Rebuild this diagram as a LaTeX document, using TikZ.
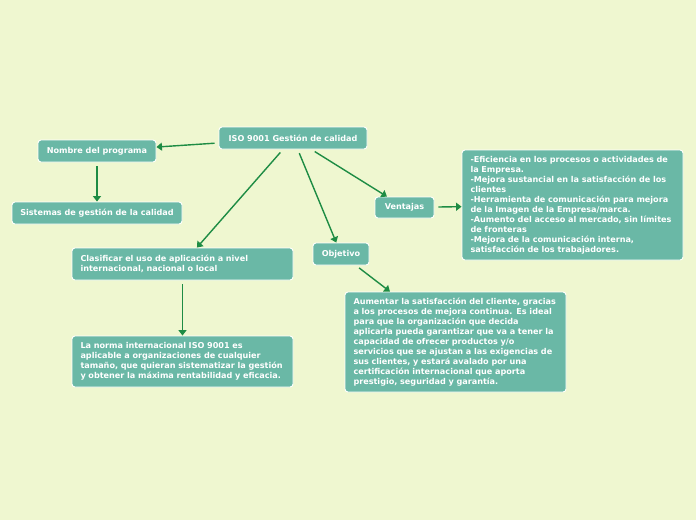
\documentclass[tikz,border=0pt]{standalone}
\usepackage{fontspec}
\setmainfont{DejaVu Sans}
\usetikzlibrary{arrows.meta}
\definecolor{bg}{RGB}{239,247,208}
\definecolor{boxc}{RGB}{106,184,166}
\definecolor{arrc}{RGB}{30,140,68}
\tikzset{
  box/.style={draw=white, line width=0.9pt, fill=boxc, rounded corners=3pt, text=white,
    font=\fontsize{8.1}{10}\selectfont\bfseries, inner sep=0pt, align=left},
  arr/.style={draw=arrc, line width=1.4pt, shorten <=4pt, -{Triangle[width=8pt,length=5.5pt]}}
}
\begin{document}
\begin{tikzpicture}[x=1pt,y=-1pt]
\fill[bg] (0,0) rectangle (696,520);
\useasboundingbox (0,0) rectangle (696,520);
\node[box, minimum width=148pt, minimum height=22pt, align=center] (iso) at (293,138) {ISO 9001 Gestión de calidad};
\node[box, minimum width=118pt, minimum height=22pt, align=center] (nom) at (97,151) {Nombre del programa};
\node[box, minimum width=170pt, minimum height=22pt, align=center] (sis) at (97,213) {Sistemas de gestión de la calidad};
\node[box, minimum width=221pt, minimum height=32pt, text width=204pt] (cla) at (182.5,264) {Clasificar el uso de aplicación a nivel\\internacional, nacional o local};
\node[box, minimum width=221pt, minimum height=51pt, text width=204pt] (nor) at (182.5,361.5) {La norma internacional ISO 9001 es\\aplicable a organizaciones de cualquier\\tamaño, que quieran sistematizar la gestión\\y obtener la máxima rentabilidad y eficacia.};
\node[box, minimum width=56pt, minimum height=22pt, align=center] (obj) at (341,254) {Objetivo};
\node[box, minimum width=221pt, minimum height=100pt, text width=204pt] (aum) at (455.5,342) {Aumentar la satisfacción del cliente, gracias\\a los procesos de mejora continua. Es ideal\\para que la organización que decida\\aplicarla pueda garantizar que va a tener la\\capacidad de ofrecer productos y/o\\servicios que se ajustan a las exigencias de\\sus clientes, y estará avalado por una\\certificación internacional que aporta\\prestigio, seguridad y garantía.};
\node[box, minimum width=59pt, minimum height=21pt, align=center] (ven) at (404.5,207.5) {Ventajas};
\node[box, minimum width=221pt, minimum height=110pt, text width=204pt] (vbox) at (572.5,205) {-Eficiencia en los procesos o actividades de\\la Empresa.\\-Mejora sustancial en la satisfacción de los\\clientes\\-Herramienta de comunicación para mejora\\de la Imagen de la Empresa/marca.\\-Aumento del acceso al mercado, sin límites\\de fronteras\\-Mejora de la comunicación interna,\\satisfacción de los trabajadores.};
\draw[arr] (iso) -- (nom);
\draw[arr] (nom) -- (sis);
\draw[arr] (iso) -- (cla);
\draw[arr] (iso) -- (obj);
\draw[arr] (iso) -- (ven);
\draw[arr] (ven) -- (vbox);
\draw[arr] (cla) -- (nor);
\draw[arr] (obj) -- (aum);
\end{tikzpicture}
\end{document}
